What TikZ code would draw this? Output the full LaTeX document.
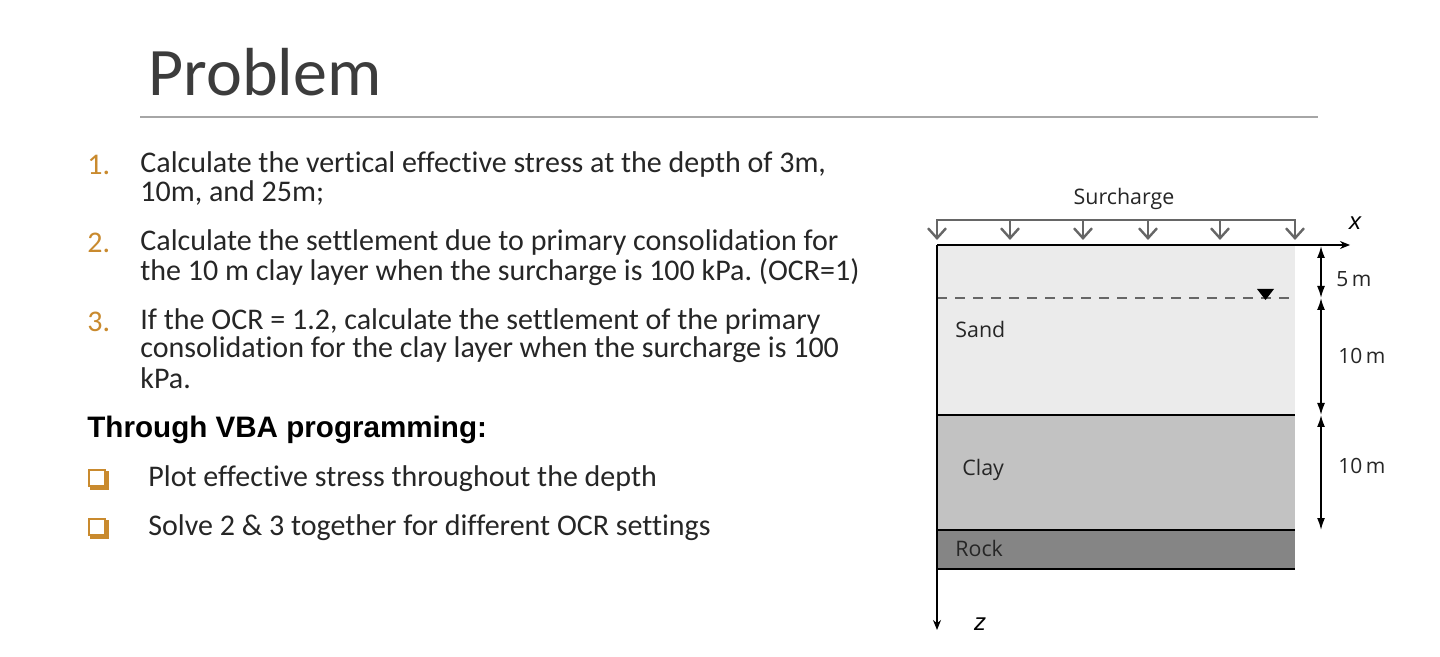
\documentclass[tikz,border=0pt]{standalone}
\usepackage{fontspec}
\setmainfont{Carlito}[Ligatures=NoCommon]
\newfontfamily\arialf{Liberation Sans}
\newfontfamily\diagf{Open Sans}
\usetikzlibrary{arrows.meta}
\definecolor{orng}{HTML}{C98A2E}
\definecolor{txt}{HTML}{262626}
\frenchspacing
\tikzset{
  body/.style={anchor=west,font=\fontsize{15}{18}\selectfont,text=txt,inner sep=0pt},
  num/.style={anchor=west,font=\fontsize{15}{18}\selectfont,text=orng,inner sep=0pt},
  dlab/.style={font=\diagf\fontsize{10.7}{12}\selectfont,text=txt,inner sep=0pt},
  dimlab/.style={font=\diagf\fontsize{10.5}{12}\selectfont,text=txt,inner sep=0pt,anchor=west},
  load/.style={draw=black!60,line width=1.2pt,-{Straight Barb[length=5pt,width=9pt]}},
  dim/.style={line width=0.8pt,{Latex[length=6pt,width=4pt]}-{Latex[length=6pt,width=4pt]}},
  chk/.style={draw=orng,line width=1pt,minimum size=8pt,inner sep=0pt}
}
\begin{document}
\begin{tikzpicture}[x=0.5pt,y=-0.5pt]
\useasboundingbox[fill=white] (0,0) rectangle (1440,657);
\node[anchor=west,font=\fontsize{34}{40}\selectfont,text=txt!90!white,inner sep=0pt] (title) at (148,72) {Problem};
\coordinate (r1) at (140,117); \coordinate (r2) at (1318,117);
\draw[black!35,line width=0.6pt] (r1) -- (r2);
% items
\node[num] (n1) at (87,165) {1.};
\node[body] (t1a) at (140,165) {Calculate the vertical effective stress at the depth of 3m,};
\node[body] (t1b) at (140,193) {10m, and 25m;};
\node[num] (n2) at (87,243) {2.};
\node[body] (t2a) at (140,243) {Calculate the settlement due to primary consolidation for};
\node[body] (t2b) at (140,272) {the 10 m clay layer when the surcharge is 100 kPa. (OCR=1)};
\node[num] (n3) at (87,322) {3.};
\node[body] (t3a) at (140,322) {If the OCR = 1.2, calculate the settlement of the primary};
\node[body] (t3b) at (140,350) {consolidation for the clay layer when the surcharge is 100};
\node[body] (t3c) at (140,378) {kPa.};
\node[anchor=west,inner sep=0pt,font=\arialf\bfseries\fontsize{14.8}{17}\selectfont,text=black] (hd) at (87,430) {Through VBA programming:};
\node[chk,fill=white] (c1) at (97,478) {};
\draw[orng,line width=2pt] ([xshift=1pt,yshift=-0.6pt]c1.south west) -- ([xshift=0.6pt,yshift=-0.6pt]c1.south east) -- ([xshift=0.6pt,yshift=-1pt]c1.north east);
\node[body] (b1) at (148,479) {Plot effective stress throughout the depth};
\node[chk,fill=white] (c2) at (97,527) {};
\draw[orng,line width=2pt] ([xshift=1pt,yshift=-0.6pt]c2.south west) -- ([xshift=0.6pt,yshift=-0.6pt]c2.south east) -- ([xshift=0.6pt,yshift=-1pt]c2.north east);
\node[body] (b2) at (148,528) {Solve 2 \& 3 together for different OCR settings};
% diagram
\fill[black!8] (937,245) rectangle (1295,415);
\fill[black!24] (937,415) rectangle (1295,530);
\fill[black!48] (937,530) rectangle (1295,569);
\draw[line width=0.8pt] (937,415) -- (1295,415);
\draw[line width=0.8pt] (937,530) -- (1295,530);
\draw[line width=0.8pt] (937,569) -- (1295,569);
\draw[black!60,dashed,dash pattern=on 5pt off 4pt,line width=0.7pt] (937,298) -- (1295,298);
\fill (1257,289) -- (1274,289) -- (1265.5,300) -- cycle;
\coordinate (o) at (937,245);
\coordinate (xe) at (1350,245);
\coordinate (ze) at (937,630);
\draw[line width=1.2pt] (o) -- (1295,245);
\draw[line width=0.7pt,-{Stealth[length=5pt,width=4pt]}] (1295,245) -- (xe);
\draw[line width=0.7pt,-{Stealth[length=5pt,width=4pt]}] (o) -- (ze);
\node[font=\arialf\itshape\fontsize{12}{14}\selectfont] (xl) at (1355,223) {x};
\node[font=\arialf\itshape\fontsize{12}{14}\selectfont] (zl) at (980,624) {z};
\draw[black!60,line width=1pt] (937,232) -- (937,220) -- (1295,220) -- (1295,232);
\foreach \xx in {937,1010,1083,1148,1220,1295}
  \draw[load] (\xx,220) -- (\xx,240);
\node[dlab] (sur) at (1124,199) {Surcharge};
\node[dlab,anchor=west] (sand) at (955,329) {Sand};
\node[dlab,anchor=west] (clay) at (962,470) {Clay};
\node[dlab,anchor=west] (rock) at (955,548) {Rock};
\coordinate (d0) at (1321,246); \coordinate (d1) at (1321,298);
\coordinate (d2) at (1321,415); \coordinate (d3) at (1321,530);
\draw[dim] (d0) -- (d1);
\draw[dim] (d1) -- (d2);
\draw[dim] (d2) -- (d3);
\node[dimlab] (l1) at (1336,279) {5\,m};
\node[dimlab] (l2) at (1338,356) {10\,m};
\node[dimlab] (l3) at (1338,466) {10\,m};
\end{tikzpicture}
\end{document}
